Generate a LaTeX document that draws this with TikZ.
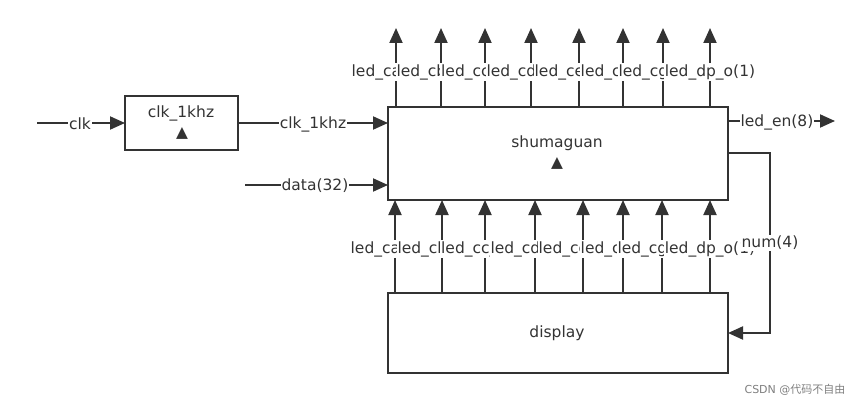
\documentclass[tikz,border=0pt]{standalone}
\usepackage{fontspec}
\setmainfont{DejaVu Sans}
\newfontfamily\cjk{Noto Sans CJK SC}
\usetikzlibrary{arrows.meta}
\definecolor{ink}{HTML}{333333}
\begin{document}
\begin{tikzpicture}[x=1pt,y=-1pt,
    wire/.style={draw=ink, line width=2pt, -{Triangle[length=15pt,width=13pt]}},
    blk/.style={draw=ink, line width=2pt, fill=white},
    lbl/.style={fill=white, inner sep=1pt, text=ink, font=\fontsize{15.5}{18}\selectfont},
    txt/.style={text=ink, font=\fontsize{15.5}{18}\selectfont}]
\useasboundingbox (0,0) rectangle (865,409);
% blocks
\draw[blk] (125,96) rectangle (238,150);
\node[txt] (clkt) at (181,113) {clk\_1khz};
\node[txt] (clktri) at (182,133) {▲};
\draw[blk] (388,107) rectangle (728,200);
\node[txt] (shu) at (557,143) {shumaguan};
\node[txt] (shutri) at (557,163) {▲};
\draw[blk] (388,293) rectangle (728,373);
\node[txt] (disp) at (557,333) {display};
% inputs
\coordinate (clkin) at (37,123);
\coordinate (clkb) at (125,123);
\draw[wire] (clkin) -- (clkb);
\node[lbl] (clkl) at (80,124) {clk};
\coordinate (khzo) at (238,123);
\coordinate (khzi) at (388,123);
\draw[wire] (khzo) -- (khzi);
\node[lbl] (khzl) at (313,124) {clk\_1khz};
\coordinate (datain) at (245,185);
\coordinate (datab) at (388,185);
\draw[wire] (datain) -- (datab);
\node[lbl] (datal) at (315,186) {data(32)};
% led_en
\coordinate (eno) at (728,121);
\coordinate (ene) at (835,121);
\draw[wire] (eno) -- (ene);
\node[lbl] (enl) at (777,122) {led\_en(8)};
% num loop
\coordinate (n1) at (728,153);
\coordinate (n2) at (770,153);
\coordinate (n3) at (770,333);
\coordinate (n4) at (728,333);
\draw[wire] (n1) -- (n2) -- (n3) -- (n4);
% top outputs and bottom inputs
\foreach \x/\n [count=\i] in {396/ca,441/cb,485/cc,531/cd,579/ce,623/cf,663/cg,710/dp}{
  \coordinate (t\i) at (\x,107);
  \coordinate (u\i) at (\x,28);
  \draw[wire] (t\i) -- (u\i);
}
\foreach \x/\n [count=\i] in {396/ca,441/cb,485/cc,531/cd,579/ce,623/cf,663/cg,710/dp}{
  \node[lbl] (tl\i) at (\x,72) {led\_\n\_o(1)};
}
\foreach \x/\n [count=\i] in {395/ca,442/cb,485/cc,535/cd,583/ce,623/cf,662/cg,710/dp}{
  \coordinate (b\i) at (\x,293);
  \coordinate (c\i) at (\x,200);
  \draw[wire] (b\i) -- (c\i);
}
\foreach \x/\n [count=\i] in {395/ca,442/cb,485/cc,535/cd,583/ce,623/cf,662/cg,710/dp}{
  \node[lbl] (bl\i) at (\x,249) {led\_\n\_o(1)};
}
\node[lbl] (numl) at (770,243) {num(4)};
\node[text=gray, font=\fontsize{11}{13}\selectfont] (wm) at (795,390) {CSDN @{\cjk 代码不自由}};
\end{tikzpicture}
\end{document}
